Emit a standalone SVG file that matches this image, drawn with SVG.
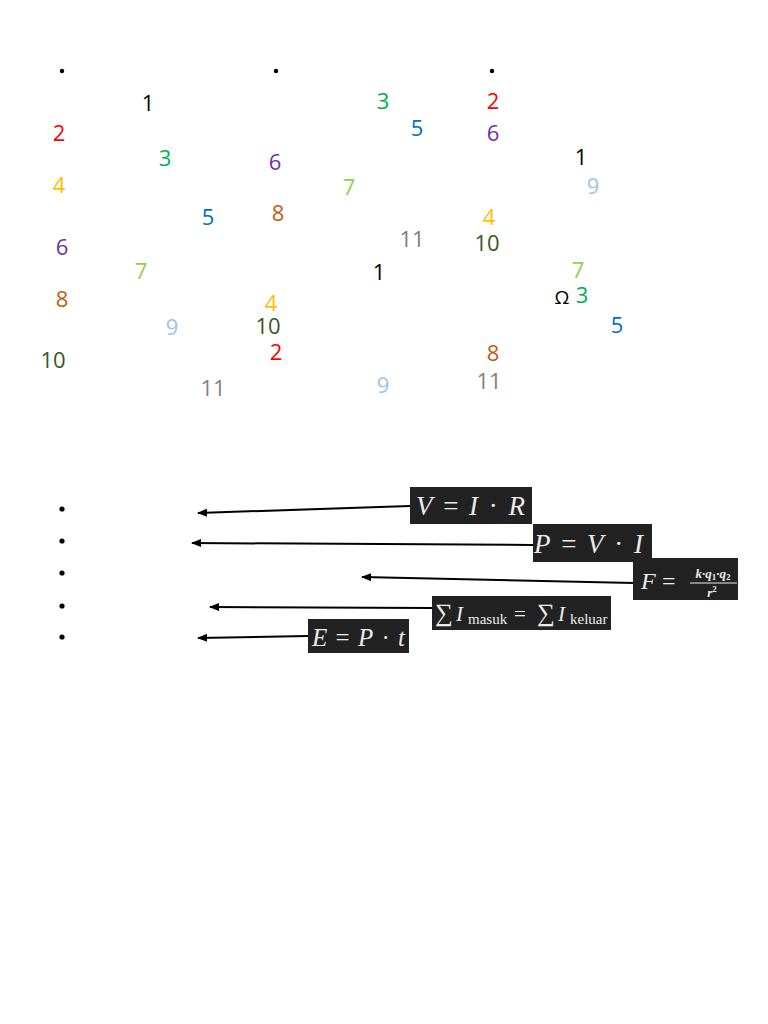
<svg xmlns="http://www.w3.org/2000/svg" width="768" height="1024" viewBox="0 0 768 1024">
<style>
.n{font-family:"Open Sans","Noto Sans",sans-serif;font-size:22px;text-anchor:middle}
.c1{fill:#000}.c2{fill:#FF0000}.c3{fill:#00B050}.c4{fill:#FFC000}.c5{fill:#0070C0}.c6{fill:#7030A0}
.c7{fill:#92D050}.c8{fill:#C55A11}.c9{fill:#9DC3E6}.c10{fill:#385723}.c11{fill:#7F7F7F}
.box{fill:#222222}
.m{font-family:"Liberation Serif","DejaVu Serif",serif;fill:#ececec}
.i{font-style:italic}
.ar{stroke:#000;stroke-width:2;fill:none;marker-end:url(#ah)}
</style>
<defs>
<marker id="ah" markerWidth="10" markerHeight="8" refX="9" refY="4" orient="auto" markerUnits="userSpaceOnUse">
<path d="M0,0 L10,4 L0,8 Z" fill="#000"/>
</marker>
</defs>
<rect width="768" height="1024" fill="#fff"/>
<g id="bullets-top" fill="#000">
<circle cx="62" cy="71" r="2.2"/><circle cx="276" cy="71" r="2.2"/><circle cx="492" cy="71" r="2.2"/>
</g>
<g id="col1">
<text class="n c1" x="148" y="111">1</text>
<text class="n c2" x="59" y="141">2</text>
<text class="n c3" x="165" y="166">3</text>
<text class="n c4" x="59" y="193">4</text>
<text class="n c5" x="208" y="225">5</text>
<text class="n c6" x="62" y="255">6</text>
<text class="n c7" x="141" y="279">7</text>
<text class="n c8" x="62" y="307">8</text>
<text class="n c9" x="172" y="335">9</text>
<text class="n c10" x="53" y="368">10</text>
<text class="n c11" x="213" y="396">11</text>
</g>
<g id="col2">
<text class="n c6" x="275" y="170">6</text>
<text class="n c8" x="278" y="221">8</text>
<text class="n c4" x="271" y="311">4</text>
<text class="n c10" x="268" y="334">10</text>
<text class="n c2" x="276" y="360">2</text>
<text class="n c3" x="383" y="109">3</text>
<text class="n c5" x="417" y="136">5</text>
<text class="n c7" x="349" y="195">7</text>
<text class="n c11" x="412" y="247">11</text>
<text class="n c1" x="379" y="280">1</text>
<text class="n c9" x="383" y="393">9</text>
</g>
<g id="col3">
<text class="n c2" x="493" y="109">2</text>
<text class="n c6" x="493" y="141">6</text>
<text class="n c4" x="489" y="225">4</text>
<text class="n c10" x="487" y="251">10</text>
<text class="n c8" x="493" y="361">8</text>
<text class="n c11" x="489" y="389">11</text>
<text class="n c1" x="581" y="165">1</text>
<text class="n c9" x="593" y="194">9</text>
<text class="n c7" x="578" y="278">7</text>
<text class="n c1" x="562" y="304" style="font-size:19px">Ω</text>
<text class="n c3" x="582" y="303">3</text>
<text class="n c5" x="617" y="333">5</text>
</g>
<g id="bullets-bottom" fill="#000">
<circle cx="62" cy="509" r="2.6"/><circle cx="62" cy="541" r="2.6"/><circle cx="62" cy="573" r="2.6"/><circle cx="62" cy="606" r="2.6"/><circle cx="62" cy="637" r="2.6"/>
</g>
<g id="connectors">
<line class="ar" x1="410" y1="506" x2="198" y2="513"/>
<line class="ar" x1="533" y1="545" x2="192" y2="543"/>
<line class="ar" x1="634" y1="583" x2="362" y2="577"/>
<line class="ar" x1="433" y1="608" x2="210" y2="607"/>
<line class="ar" x1="308" y1="636" x2="198" y2="638"/>
</g>
<g id="f-ohm">
<rect class="box" x="410" y="487" width="122" height="37"/>
<text class="m" x="416" y="515" style="font-size:27px" textLength="109" lengthAdjust="spacing"><tspan class="i">V</tspan> = <tspan class="i">I</tspan> · <tspan class="i">R</tspan></text>
</g>
<g id="f-power">
<rect class="box" x="533" y="524" width="119" height="38"/>
<text class="m" x="534" y="553" style="font-size:27px" textLength="109" lengthAdjust="spacing"><tspan class="i">P</tspan> = <tspan class="i">V</tspan> · <tspan class="i">I</tspan></text>
</g>
<g id="f-coulomb">
<rect class="box" x="633" y="558" width="105" height="42"/>
<text class="m i" x="641" y="589" style="font-size:24px">F</text>
<text class="m" x="662" y="589" style="font-size:24px">=</text>
<text class="m i" x="713" y="578" style="font-size:13px;text-anchor:middle;font-weight:bold">k·q<tspan style="font-style:normal;font-size:9px" dy="2">1</tspan><tspan dy="-2">·q</tspan><tspan style="font-style:normal;font-size:9px" dy="2">2</tspan></text>
<line x1="690" y1="583" x2="737" y2="583" stroke="#ececec" stroke-width="1"/>
<text class="m i" x="712" y="597" style="font-size:13px;text-anchor:middle;font-weight:bold">r<tspan style="font-style:normal;font-size:9px" dy="-5">2</tspan></text>
</g>
<g id="f-kirchhoff">
<rect class="box" x="432" y="596" width="179" height="34"/>
<text class="m" y="621" style="font-size:21px"><tspan x="435" style="font-size:25px">∑</tspan><tspan x="456" class="i">I</tspan><tspan x="468" style="font-size:15px" dy="3">masuk</tspan><tspan x="514" dy="-3">=</tspan><tspan x="537" style="font-size:25px">∑</tspan><tspan x="558" class="i">I</tspan><tspan x="570" style="font-size:15px" dy="3">keluar</tspan></text>
</g>
<g id="f-energy">
<rect class="box" x="308" y="619" width="101" height="34"/>
<text class="m" x="312" y="646" style="font-size:25px" textLength="93" lengthAdjust="spacing"><tspan class="i">E</tspan> = <tspan class="i">P</tspan> · <tspan class="i">t</tspan></text>
</g>
</svg>
